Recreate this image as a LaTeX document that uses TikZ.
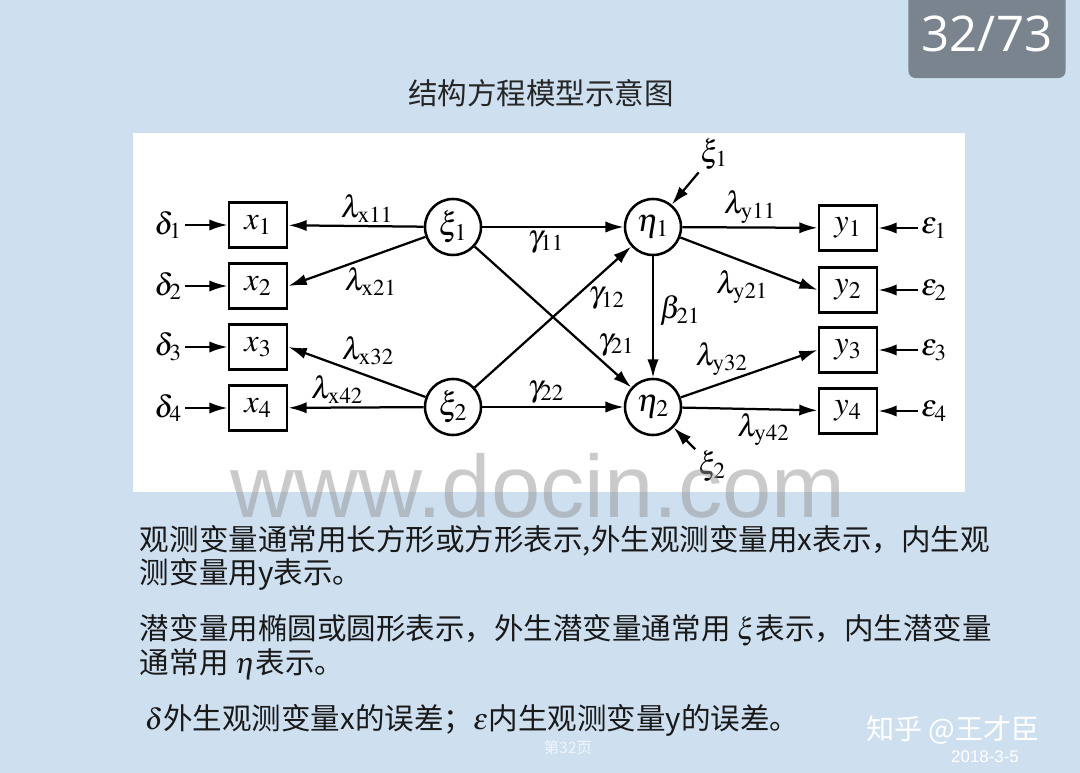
\documentclass[tikz,border=0pt]{standalone}
\usepackage{mathptmx}
\usepackage{fontspec}
\newfontfamily\cjk{Noto Sans CJK SC}
\newfontfamily\badgefont{Open Sans}
\newfontfamily\wmfont{Liberation Sans}
\usetikzlibrary{arrows.meta}
\definecolor{slideblue}{RGB}{206,224,240}
\definecolor{badgegray}{RGB}{122,132,142}
\definecolor{wmgray}{RGB}{150,150,150}

\begin{document}
\begin{tikzpicture}[x=0.025cm,y=-0.025cm,>={Latex[length=13pt,width=8pt]},
  obs/.style={draw,line width=2pt,minimum width=1.45cm,minimum height=1.13cm,inner sep=0pt,
    font=\fontsize{23}{25}\selectfont},
  lat/.style={draw,circle,line width=1.8pt,minimum size=1.4cm,inner sep=0pt,
    font=\fontsize{23}{25}\selectfont},
  lnk/.style={->,line width=1.6pt},
  lbl/.style={inner sep=2pt,font=\fontsize{22}{24}\selectfont},
  body/.style={anchor=west,align=left,text=black!90,font=\cjk\fontsize{21}{24}\selectfont}]
  \useasboundingbox (0,0) rectangle (1080,773);
  \clip (0,0) rectangle (1080,773);
  \fill[slideblue] (0,0) rectangle (1080,773);

  % Page badge and title
  \node[fill=badgegray,rounded corners=5pt,minimum width=3.925cm,minimum height=2.2cm,
    text=white,font=\badgefont\fontsize{35}{35}\selectfont] (badge) at (987,34) {32/73};
  \node[text=black!85,font=\cjk\fontsize{21}{24}\selectfont] (title) at (541,93) {结构方程模型示意图};

  % Diagram panel
  \fill[white] (133,133) rectangle (965,492);

  % Observed variables with their errors
  \foreach \i/\y in {1/225,2/286,3/347,4/408} {
    \node[obs] (x\i) at (258,\y) {$x_{\i}$};
    \node[lbl] (d\i) at (168,\y) {$\delta_{\i}$};
    \draw[lnk] (d\i) -- (x\i);
  }
  \foreach \i/\y in {1/228,2/290,3/350,4/411} {
    \node[obs] (y\i) at (848,\y) {$y_{\i}$};
    \node[lbl] (e\i) at (934,\y) {$\varepsilon_{\i}$};
    \draw[lnk] (e\i) -- (y\i);
  }

  % Latent variables
  \node[lat] (xi1) at (453,227) {$\xi_1$};
  \node[lat] (xi2) at (453,407) {$\xi_2$};
  \node[lat] (eta1) at (653,227) {$\eta_1$};
  \node[lat] (eta2) at (653,407) {$\eta_2$};
  \node[lbl] (z1) at (714,154) {$\xi_1$};
  \node[lbl] (z2) at (712,466) {$\xi_2$};
  \draw[lnk] (z1) -- (eta1);
  \draw[lnk] (z2) -- (eta2);

  % Loadings of the exogenous side
  \draw[lnk] (xi1) -- node[lbl,pos=0.42,above] {$\lambda_{\mathrm{x}11}$} (x1);
  \draw[lnk] (xi1) -- node[lbl,pos=0.4,below=5pt] {$\lambda_{\mathrm{x}21}$} (x2.east);
  \draw[lnk] (xi2) -- node[lbl,pos=0.42,above=5pt] {$\lambda_{\mathrm{x}32}$} (x3.east);
  \draw[lnk] (xi2) -- node[lbl,pos=0.64,above=0pt] {$\lambda_{\mathrm{x}42}$} (x4);

  % Structural paths
  \draw[lnk] (xi1) -- node[lbl,pos=0.45,below] {$\gamma_{11}$} (eta1);
  \draw[lnk] (xi2) -- node[lbl,pos=0.45,above] {$\gamma_{22}$} (eta2);
  \draw[lnk] (xi2) -- node[lbl,pos=0.63,right=8pt] {$\gamma_{12}$} (eta1);
  \draw[lnk] (xi1) -- node[lbl,pos=0.7,right=7pt] {$\gamma_{21}$} (eta2);
  \draw[lnk] (eta1) -- node[lbl,pos=0.45,right=2pt] {$\beta_{21}$} (eta2);

  % Loadings of the endogenous side
  \draw[lnk] (eta1) -- node[lbl,pos=0.5,above] {$\lambda_{\mathrm{y}11}$} (y1);
  \draw[lnk] (eta1) -- node[lbl,pos=0.45,below=4pt] {$\lambda_{\mathrm{y}21}$} (y2.west);
  \draw[lnk] (eta2) -- node[lbl,pos=0.3,above=3pt] {$\lambda_{\mathrm{y}32}$} (y3.west);
  \draw[lnk] (eta2) -- node[lbl,pos=0.6,below] {$\lambda_{\mathrm{y}42}$} (y4);

  % Watermark
  \node[text=wmgray,opacity=0.5,font=\wmfont\fontsize{63}{63}\selectfont] (wm) at (538,486) {www.docin.com};

  % Notes
  \node[body] (note1) at (135,558) {观测变量通常用长方形或方形表示,外生观测变量用x表示，内生观\\测变量用y表示。};
  \node[body] (note2) at (135,647) {潜变量用椭圆或圆形表示，外生潜变量通常用 $\xi$表示，内生潜变量\\通常用 $\eta$表示。};
  \node[body] (note3) at (140,720) {$\delta$外生观测变量x的误差；$\varepsilon$内生观测变量y的误差。};

  % Footer
  \node[text=white,opacity=0.7,font=\cjk\fontsize{11}{11}\selectfont] (pno) at (568,748) {第32页};
  \node[text=white,font=\cjk\fontsize{20}{20}\selectfont] (zhihu) at (953,730) {知乎 @王才臣};
  \node[text=white,font=\wmfont\fontsize{12}{12}\selectfont] (date) at (985,757) {2018-3-5};
\end{tikzpicture}
\end{document}
